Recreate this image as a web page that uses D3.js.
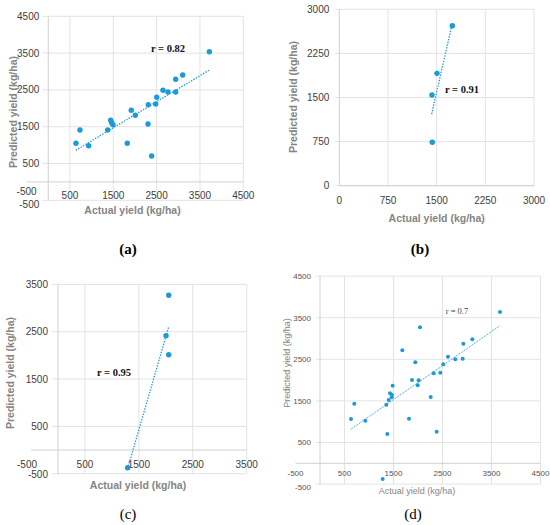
<!DOCTYPE html>
<html><head><meta charset="utf-8">
<script src="https://cdn.jsdelivr.net/npm/d3@7/dist/d3.min.js"></script>
<style>body{margin:0;background:#fff}svg{display:block}</style>
</head><body>
<script>
// ---------- DATA ----------
const actualA    = [3716,3101,2940,2940,2762,2647,2502,2479,2308,2301,2386,1915,2008,1823,1440,1463,1493,1371,731,639,932];
const predictedA = [3538,2905,2788,2443,2443,2489,2299,2117,2098,1573,704,1946,1810,1049,1674,1609,1554,1410,1410,1049,984];
const trendActualA = [636,3716];
const trendPredictedA = [858,3040];
const ticksA = [-500,500,1500,2500,3500,4500];

const actualB    = [1741,1505,1428,1433];
const predictedB = [2721,1911,1542,738];
const trendActualB = [1423,1732];
const trendPredictedB = [1219,2716];
const ticksB = [0,750,1500,2250,3000];

const actualC    = [2054,2004,2054,1293];
const predictedC = [3271,2417,2015,-374];
const trendActualC = [1305,2054];
const trendPredictedC = [-338,2607];
const ticksC = [-500,500,1500,2500,3500];

const actualD    = [3673,3109,2925,2912,2762,2612,2517,2455,2320,2259,2381,2041,1945,2014,1994,1878,1816,1680,1483,1429,1469,1463,1402,1353,700,633,925,1374,1279];
const predictedD = [3637,2981,2875,2514,2500,2563,2380,2178,2163,1594,760,3269,2428,1995,1875,2002,1072,2716,1865,1683,1642,1587,1522,1409,1433,1065,1024,704,-377];
const trendActualD = [627,3673];
const trendPredictedD = [817,3308];
const ticksD = [-500,500,1500,2500,3500,4500];

const rLabels = ["r = 0.82","r = 0.91","r = 0.95","r = 0.7"];
const captions = ["(a)","(b)","(c)","(d)"];
const xTitle = "Actual yield (kg/ha)";
const yTitle = "Predicted yield (kg/ha)";

// ---------- DRAWING ----------
const svg = d3.select("body").append("svg").attr("width",550).attr("height",525);
const BLUE = "#1b9ad9";

function panel(c){
  const g = svg.append("g");
  const x = d3.scaleLinear().domain(c.xd).range(c.xr);
  const y = d3.scaleLinear().domain(c.yd).range(c.yr);
  const x0 = x(Math.max(0,c.xd[0])), y0 = y(Math.max(0,c.yd[0]));
  // horizontal gridlines
  g.selectAll(".hg").data(c.ticks).join("line")
    .attr("x1",x0-c.tk).attr("x2",x(c.xd[1]))
    .attr("y1",d=>y(d)).attr("y2",d=>y(d))
    .attr("stroke","#e3e3e3").attr("stroke-width",1);
  // vertical gridlines
  g.selectAll(".vg").data(c.ticks.filter(t=>t>0)).join("line")
    .attr("x1",d=>x(d)).attr("x2",d=>x(d))
    .attr("y1",y(c.yd[0])).attr("y2",y(c.yd[1]))
    .attr("stroke","#e3e3e3").attr("stroke-width",1);
  // axis lines
  g.append("line").attr("x1",x0).attr("x2",x0).attr("y1",y(c.yd[0])).attr("y2",y(c.yd[1]))
    .attr("stroke","#d0d0d0").attr("stroke-width",1);
  g.append("line").attr("x1",x(c.xd[0])).attr("x2",x(c.xd[1])).attr("y1",y0).attr("y2",y0)
    .attr("stroke","#d0d0d0").attr("stroke-width",1);
  // tick labels
  g.selectAll(".xt").data(c.ticks).join("text")
    .attr("x",d=>x(d)+(d<0?c.negShift:0)).attr("y",d=>y0+c.xlOff+(d<0?c.negRise:0))
    .attr("text-anchor","middle").attr("font-family","Liberation Sans, Arial, sans-serif")
    .attr("font-size",c.tfs).attr("fill",c.tcol).text(d=>d);
  g.selectAll(".yt").data(c.ticks).join("text")
    .attr("x",x0-c.ylOff).attr("y",d=>y(d)+c.tfs*0.35+(d<0?c.negDrop:0))
    .attr("text-anchor","end").attr("font-family","Liberation Sans, Arial, sans-serif")
    .attr("font-size",c.tfs).attr("fill",c.tcol).text(d=>d);
  // titles
  g.append("text").attr("x",c.xt[0]).attr("y",c.xt[1]).attr("text-anchor","middle")
    .attr("font-family","Liberation Sans, Arial, sans-serif").attr("font-size",c.ttfs)
    .attr("font-weight",c.tbold?"bold":"normal").attr("fill","#858585").text(xTitle);
  g.append("text").attr("transform",`translate(${c.yt[0]},${c.yt[1]}) rotate(-90)`)
    .attr("text-anchor","middle").attr("dy","0.35em")
    .attr("font-family","Liberation Sans, Arial, sans-serif").attr("font-size",c.ttfs)
    .attr("font-weight",c.tbold?"bold":"normal").attr("fill","#858585").text(yTitle);
  // trendline
  const tl = c.trX.map((v,i)=>[v,c.trY[i]]);
  g.append("path").attr("d",d3.line().x(d=>x(d[0])).y(d=>y(d[1]))(tl))
    .attr("fill","none").attr("stroke",BLUE).attr("stroke-width",c.tw).attr("stroke-dasharray",c.dash);
  // points
  const pts = c.ax.map((v,i)=>[v,c.py[i]]);
  g.selectAll(".pt").data(pts).join("circle")
    .attr("cx",d=>x(d[0])).attr("cy",d=>y(d[1])).attr("r",c.pr).attr("fill",BLUE);
  // r label
  g.append("text").attr("x",c.rl[0]).attr("y",c.rl[1]).attr("text-anchor","middle")
    .attr("font-family","Liberation Serif, Times New Roman, serif").attr("font-size",c.rfs)
    .attr("font-weight",c.rbold?"bold":"normal").attr("fill",c.rbold?"#111":"#444").text(c.rtext);
  // caption
  g.append("text").attr("x",c.cap[0]).attr("y",c.cap[1]).attr("text-anchor","middle")
    .attr("font-family","Liberation Serif, Times New Roman, serif").attr("font-size",15)
    .attr("font-weight",c.cbold?"bold":"normal").attr("fill","#000").text(c.ctext);
}

panel({xd:[-500,4500],yd:[-500,4500],xr:[26.6,243.3],yr:[200.3,16.3],ticks:ticksA,
  ax:actualA,py:predictedA,trX:trendActualA,trY:trendPredictedA,
  tk:6,xlOff:17,ylOff:9,negShift:0,negRise:-4,negDrop:4,tfs:10,tcol:"#404040",
  xt:[132.5,214],yt:[13,112],ttfs:10.5,tbold:true,
  tw:1.3,dash:"1.4,1.4",pr:2.7,rl:[168,52],rfs:10.5,rbold:true,rtext:rLabels[0],
  cap:[128,254],cbold:true,ctext:captions[0]});

panel({xd:[0,3000],yd:[0,3000],xr:[339.3,534],yr:[185.7,9.3],ticks:ticksB,
  ax:actualB,py:predictedB,trX:trendActualB,trY:trendPredictedB,
  tk:4,xlOff:18,ylOff:10,negShift:0,negRise:0,negDrop:0,tfs:10,tcol:"#404040",
  xt:[436.7,222],yt:[293.3,97],ttfs:10.5,tbold:true,
  tw:1.3,dash:"1.4,1.4",pr:2.7,rl:[462,93],rfs:10.5,rbold:true,rtext:rLabels[1],
  cap:[420,254],cbold:true,ctext:captions[1]});

panel({xd:[-500,3500],yd:[-500,3500],xr:[31,246.7],yr:[473.7,284.4],ticks:ticksC,
  ax:actualC,py:predictedC,trX:trendActualC,trY:trendPredictedC,
  tk:6,xlOff:18,ylOff:10,negShift:-4,negRise:0,negDrop:1,tfs:10,tcol:"#404040",
  xt:[138,489],yt:[10,373],ttfs:10.5,tbold:true,
  tw:1.3,dash:"1.4,1.4",pr:2.7,rl:[114,376],rfs:10.5,rbold:true,rtext:rLabels[2],
  cap:[128,519],cbold:false,ctext:captions[2]});

panel({xd:[-500,4500],yd:[-500,4500],xr:[295.5,540.5],yr:[484.1,276.1],ticks:ticksD,
  ax:actualD,py:predictedD,trX:trendActualD,trY:trendPredictedD,
  tk:4,xlOff:13,ylOff:9,negShift:0,negRise:0,negDrop:3,tfs:8,tcol:"#555",
  xt:[417,494],yt:[287,363],ttfs:9,tbold:false,
  tw:1,dash:"1,1",pr:2,rl:[457,313.5],rfs:8.5,rbold:false,rtext:rLabels[3],
  cap:[413,519],cbold:false,ctext:captions[3]});
</script>
</body></html>
